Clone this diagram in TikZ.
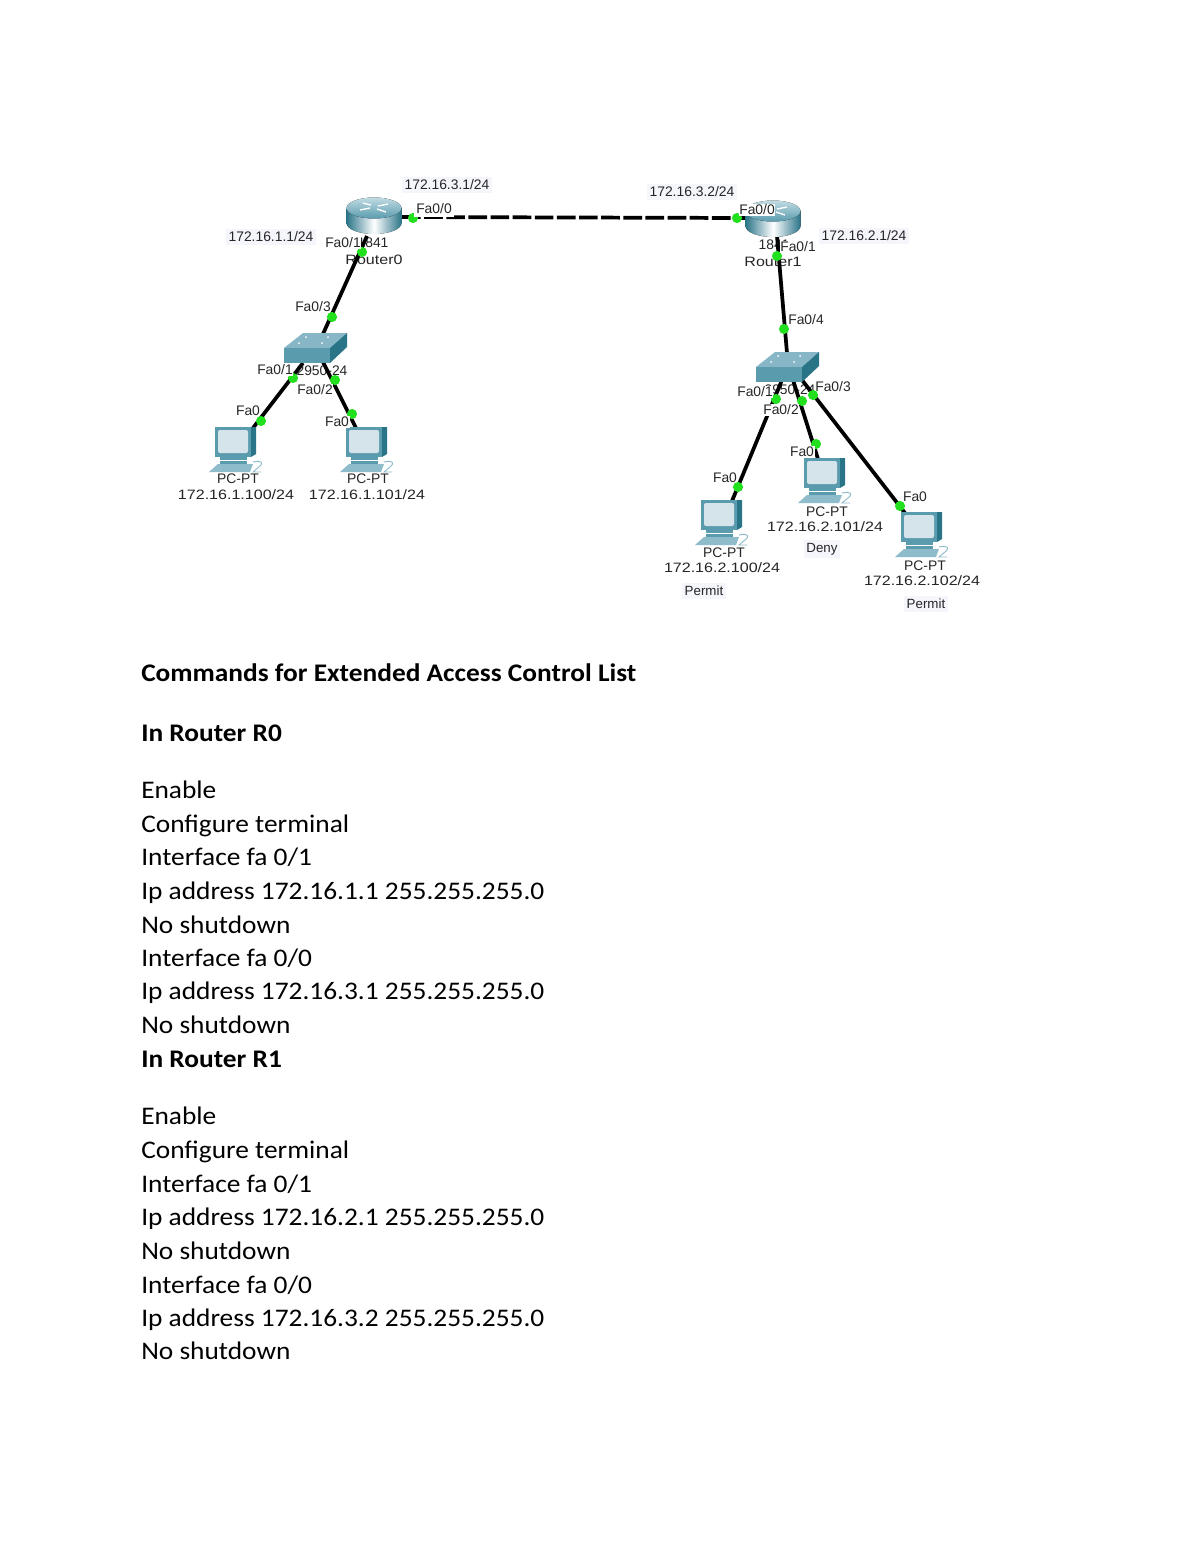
\documentclass[tikz,border=0pt]{standalone}
\usepackage{fontspec}
\setmainfont[FakeStretch=1.08]{Carlito}
\newfontfamily\labfont{Liberation Sans}
\newfontfamily\widefont[FakeStretch=1.18]{Liberation Sans}
\definecolor{labtxt}{HTML}{262626}
\definecolor{tealmid}{HTML}{5A9BAE}
\definecolor{tealdark}{HTML}{2A7488}
\definecolor{teallight}{HTML}{8FBCCB}
\definecolor{screenc}{HTML}{D5E4EB}
\definecolor{tagbg}{HTML}{F5F5FC}
\definecolor{portgreen}{HTML}{22E01E}
\tikzset{
  x=0.75pt,y=-0.75pt,
  linkline/.style={line width=2.8pt,black},
  xlink/.style={line width=2.8pt,black,dash pattern=on 14pt off 2.6pt},
  portdot/.style={circle,fill=portgreen,inner sep=0pt,minimum size=7.6pt},
  lab/.style={font=\labfont\fontsize{10.4}{12}\selectfont,text=labtxt,inner sep=0.5pt},
  wlab/.style={font=\widefont\fontsize{10.2}{12}\selectfont,text=labtxt,inner sep=0.5pt},
  labw/.style={lab,fill=white},
  portw/.style={lab,fill=white,inner xsep=2pt,inner ysep=2pt},
  tag/.style={lab,fill=tagbg,inner sep=2pt},
  verdict/.style={lab,fill=tagbg,inner sep=2pt,font=\labfont\fontsize{10}{12}\selectfont},
  body/.style={font=\fontsize{19}{22}\selectfont,anchor=base west,inner sep=0pt,text=black},
  head/.style={body,font=\fontsize{19}{22}\selectfont\bfseries},
  pcicon/.pic={
    \fill[teallight] (-6,45) -- (3,37) -- (38,37) -- (35,45) -- cycle;
    \draw[teallight,line width=0.7pt] (38,35) .. controls (47,33) and (49,36) .. (44,40) -- (38,45) -- (46,45);
    \fill[tealmid] (5,30) rectangle (32,37);
    \fill[tealmid] (0,0) rectangle (36,30);
    \fill[tealdark] (36,0) -- (41,0) -- (41,27) -- (36,30) -- cycle;
    \fill[screenc,rounded corners=1.5pt] (3,3) rectangle (33,26);
    \draw[white,line width=0.5pt] (5,33.5) -- (32,33.5);
  },
  routericon/.pic={
    \fill[left color=tealdark,right color=tealdark,middle color=white]
      (-27.5,-8) -- (-27.5,7) arc[start angle=180,end angle=0,x radius=27.5,y radius=11] -- (27.5,-8) -- cycle;
    \fill[top color=teallight!55!white,bottom color=tealmid] (0,-8) ellipse[x radius=27.5,y radius=10.5];
    \draw[white,line width=1pt] (-14,-6) -- (-4,-8) (4,-10) -- (14,-12) (-11,-13) -- (-3,-11) (3,-7) -- (12,-4);
  },
  switchicon/.pic={
    \fill[teallight!85!tealmid] (0,15) -- (19,0) -- (63,0) -- (46,15) -- cycle;
    \fill[tealmid] (0,15) rectangle (46,30);
    \fill[tealdark] (63,0) -- (63,14) -- (46,30) -- (46,15) -- cycle;
    \fill[white] (15,10) circle[radius=1] (22,4) circle[radius=1] (38,10) circle[radius=1] (44,4) circle[radius=1];
  }
}
\begin{document}
\begin{tikzpicture}
\useasboundingbox[fill=white] (0,0) rectangle (1200,1553);

% device type texts, which the links cross
\node[lab] (m1841a) at (373,243) {1841};
\node[lab] (m1841b) at (774,245) {1841};
\node[lab] (m2950a) at (322,371) {2950-24};
\node[lab] (m2950b) at (790,390) {2950-24};
\node[wlab] (rn0) at (374,260) {Router0};
\node[wlab] (rn1) at (773,262) {Router1};

% link end points
\coordinate (r0e) at (402,217);
\coordinate (r1w) at (746,218);
\coordinate (r0s) at (367,236);
\coordinate (s0n) at (323,334);
\coordinate (s0a) at (303,363);
\coordinate (p0n) at (253,428);
\coordinate (s0b) at (323,362);
\coordinate (p1n) at (356,428);
\coordinate (r1s) at (777,236);
\coordinate (s1n) at (787,353);
\coordinate (s1a) at (782,380);
\coordinate (pan) at (732,501);
\coordinate (s1b) at (793,380);
\coordinate (pbn) at (818,459);
\coordinate (s1c) at (802,380);
\coordinate (pcn) at (905,513);

\draw[xlink] (r0e) -- (r1w);
\draw[linkline] (r0s) -- (s0n);
\draw[linkline] (s0a) -- (p0n);
\draw[linkline] (s0b) -- (p1n);
\draw[linkline] (r1s) -- (s1n);
\draw[linkline] (s1a) -- (pan);
\draw[linkline] (s1b) -- (pbn);
\draw[linkline] (s1c) -- (pcn);

% devices
\pic at (374,216) {routericon};
\pic at (773,219) {routericon};
\pic at (284,333) {switchicon};
\pic at (756,352) {switchicon};
\pic at (215,427) {pcicon};
\pic at (346,427) {pcicon};
\pic at (701,500) {pcicon};
\pic at (804,458) {pcicon};
\pic at (901,512) {pcicon};

% port dots
\node[portdot] (d1) at (413,218) {};
\node[portdot] (d2) at (737,218) {};
\node[portdot] (d3) at (362,252) {};
\node[portdot] (d4) at (332,317) {};
\node[portdot] (d5) at (293,378) {};
\node[portdot] (d6) at (261,421) {};
\node[portdot] (d7) at (335,380) {};
\node[portdot] (d8) at (352,414) {};
\node[portdot] (d9) at (777,256) {};
\node[portdot] (d10) at (784,329) {};
\node[portdot] (d11) at (776,399) {};
\node[portdot] (d12) at (802,401) {};
\node[portdot] (d13) at (813,395) {};
\node[portdot] (d14) at (738,487) {};
\node[portdot] (d15) at (816,444) {};
\node[portdot] (d16) at (900,506) {};

% address tags
\node[tag] (a1) at (447,185) {172.16.3.1/24};
\node[tag] (a2) at (271,237) {172.16.1.1/24};
\node[tag] (a3) at (692,192) {172.16.3.2/24};
\node[tag] (a4) at (864,236) {172.16.2.1/24};

% port labels
\node[portw] (f1) at (434,209) {Fa0/0};
\node[labw] (f2) at (343,243) {Fa0/1};
\node[lab] (f3) at (313,307) {Fa0/3};
\node[labw] (f4) at (275,370) {Fa0/1};
\node[labw] (f5) at (315,390) {Fa0/2};
\node[lab] (f6) at (248,411) {Fa0};
\node[labw] (f7) at (337,422) {Fa0};
\node[labw] (f8) at (757,210) {Fa0/0};
\node[labw] (f9) at (798,247) {Fa0/1};
\node[lab] (f10) at (806,320) {Fa0/4};
\node[labw] (f11) at (755,392) {Fa0/1};
\node[labw] (f12) at (781,410) {Fa0/2};
\node[lab] (f13) at (833,387) {Fa0/3};
\node[lab] (f14) at (725,478) {Fa0};
\node[labw] (f15) at (802,452) {Fa0};
\node[lab] (f16) at (915,497) {Fa0};

% PC labels
\node[lab] (n1) at (238,479) {PC-PT};
\node[wlab] (n2) at (236,495) {172.16.1.100/24};
\node[lab] (n3) at (368,479) {PC-PT};
\node[wlab] (n4) at (367,495) {172.16.1.101/24};
\node[lab] (n5) at (724,553) {PC-PT};
\node[wlab] (n6) at (722,568) {172.16.2.100/24};
\node[verdict] (n7) at (704,591) {Permit};
\node[lab] (n8) at (827,512) {PC-PT};
\node[wlab] (n9) at (825,527) {172.16.2.101/24};
\node[verdict] (n10) at (822,549) {Deny};
\node[lab] (n11) at (925,566) {PC-PT};
\node[wlab] (n12) at (922,581) {172.16.2.102/24};
\node[verdict] (n13) at (926,604) {Permit};

% commands text
\node[head] (t1) at (141,681) {Commands for Extended Access Control List};
\node[head] (t2) at (141,741) {In Router R0};
\node[body] (t3) at (141,798) {Enable};
\node[body] (t4) at (141,832) {Configure terminal};
\node[body] (t5) at (141,865) {Interface fa 0/1};
\node[body] (t6) at (141,899) {Ip address 172.16.1.1 255.255.255.0};
\node[body] (t7) at (141,933) {No shutdown};
\node[body] (t8) at (141,966) {Interface fa 0/0};
\node[body] (t9) at (141,999) {Ip address 172.16.3.1 255.255.255.0};
\node[body] (t10) at (141,1033) {No shutdown};
\node[head] (t11) at (141,1067) {In Router R1};
\node[body] (t12) at (141,1124) {Enable};
\node[body] (t13) at (141,1158) {Configure terminal};
\node[body] (t14) at (141,1192) {Interface fa 0/1};
\node[body] (t15) at (141,1225) {Ip address 172.16.2.1 255.255.255.0};
\node[body] (t16) at (141,1259) {No shutdown};
\node[body] (t17) at (141,1293) {Interface fa 0/0};
\node[body] (t18) at (141,1326) {Ip address 172.16.3.2 255.255.255.0};
\node[body] (t19) at (141,1359) {No shutdown};
\end{tikzpicture}
\end{document}
